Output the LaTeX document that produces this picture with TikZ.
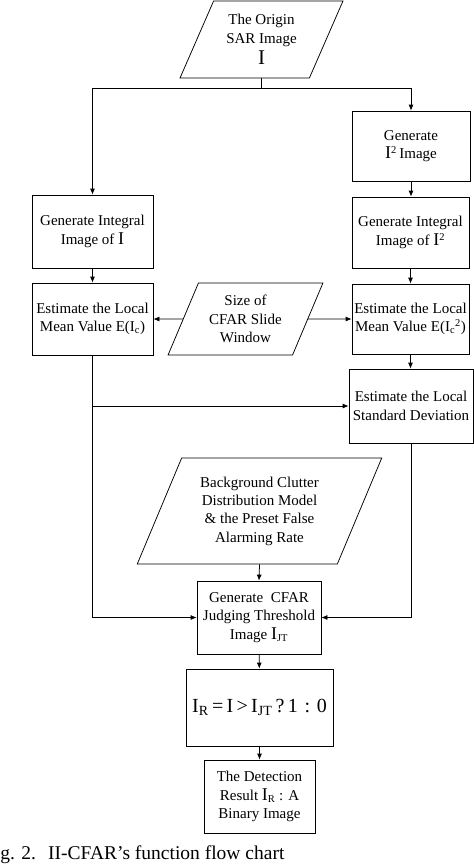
\documentclass[tikz,border=0pt]{standalone}
\usepackage{fontspec}
\setmainfont{Liberation Serif}
\usetikzlibrary{shapes.geometric,arrows,arrows.meta,positioning}

\newcommand{\bigI}{{\fontsize{18}{18}\selectfont I}}

\begin{document}
\begin{tikzpicture}[x=1pt,y=-1pt,line width=0.75pt]
    \tikzstyle{block} = [rectangle, draw, text centered, align=center,
               inner sep=1pt, font=\fontsize{15}{18.3}\selectfont]
    \tikzstyle{io} = [trapezium, draw, trapezium left angle=64,
               trapezium right angle=116, trapezium stretches=true,
               align=center, inner sep=1pt,
               font=\fontsize{15}{18.3}\selectfont]
    \tikzstyle{line} = [draw, -{Latex[length=6pt,width=5pt]}]

    \useasboundingbox (0,0) rectangle (474,865);

    % inputs
    \node[io, minimum width=163, minimum height=77] (origin) at (261.5,39.5)
      {The Origin\\SAR Image\\[3pt]{\fontsize{21}{21}\selectfont I}};
    \node[io, minimum width=155, minimum height=72] (win) at (245.5,319)
      {Size of\\CFAR Slide\\Window};
    \node[io, minimum width=245, minimum height=106] (clutter) at (259.5,511)
      {Background Clutter\\Distribution Model\\\& the Preset False\\Alarming Rate};

    % left column
    \node[block, minimum width=121, minimum height=73] (intI) at (92.5,231.5)
      {Generate Integral\\Image of \bigI};
    \node[block, minimum width=121, minimum height=72] (meanI) at (92.5,319)
      {Estimate the Local\\Mean Value E(I\textsubscript{c})};

    % right column
    \node[block, minimum width=118, minimum height=70] (sqI) at (411,146)
      {Generate\\\bigI\textsuperscript{2}\,Image};
    \node[block, minimum width=117, minimum height=71] (intsqI) at (410.5,232.5)
      {Generate Integral\\Image of \bigI\textsuperscript{2}};
    \node[block, minimum width=117, minimum height=70] (meansqI) at (410.5,319)
      {Estimate the Local\\Mean Value E(I\textsubscript{c}\textsuperscript{2})};
    \node[block, minimum width=124, minimum height=74] (stdev) at (411,406)
      {Estimate the Local\\Standard Deviation};

    % bottom column
    \node[block, minimum width=124, minimum height=73] (thresh) at (259,617.5)
      {Generate\ \ CFAR\\Judging Threshold\\Image \bigI\textsubscript{JT}};
    \node[block, minimum width=147, minimum height=77,
          font=\fontsize{20}{24}\selectfont] (decide) at (259.5,707.5)
      {I\textsubscript{R}\,=\,I\,>\,I\textsubscript{JT}\,?\,1\,\,:\,\,0};
    \node[block, minimum width=111, minimum height=73] (result) at (259.5,796.5)
      {The Detection\\Result \bigI\textsubscript{R} : A\\Binary Image};

    \node[anchor=base west, inner sep=0pt, font=\fontsize{19.5}{22}\selectfont]
      (caption) at (0,859) {g. 2.\hspace{12pt}II-CFAR's function flow chart};

    % connectors
    \draw (origin.south) -- ++(0,10) coordinate (split);
    \draw[line] (split) -| (intI.north);
    \draw[line] (split) -| (sqI.north);
    \draw[line] (intI) -- (intI.south |- meanI.north);
    \draw[line] (sqI) -- (sqI.south |- intsqI.north);
    \draw[line] (intsqI) -- (intsqI.south |- meansqI.north);
    \draw[line] (win.west) -- (meanI.east);
    \draw[line] (win.east) -- (meansqI.west);
    \draw[line] (meansqI) -- (meansqI.south |- stdev.north);
    \draw[line] (meanI.south) |- (thresh.west);
    \draw[line] (meanI.south |- stdev.west) -- (stdev.west);
    \draw[line] (stdev.south) |- (thresh.east);
    \draw[line] (clutter.south) -- (thresh.north);
    \draw[line] (thresh) -- (decide);
    \draw[line] (decide) -- (result);

\end{tikzpicture}
\end{document}
